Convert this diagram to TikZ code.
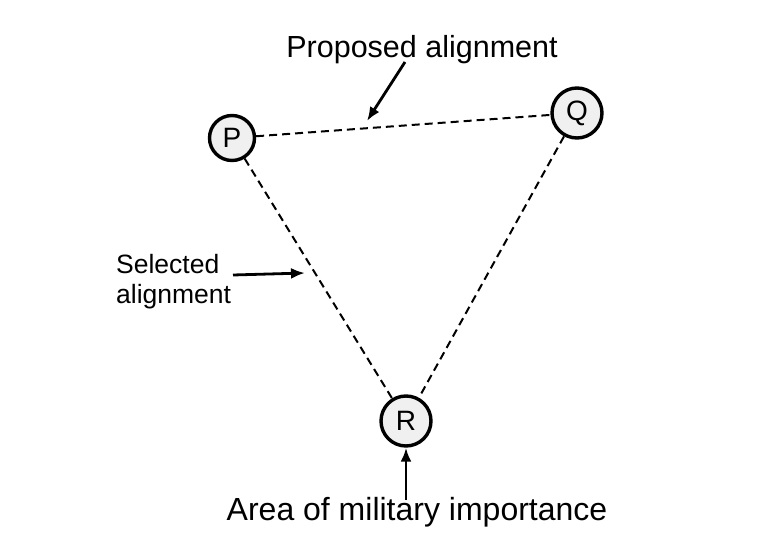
\documentclass[tikz,border=0pt]{standalone}
\usepackage{fontspec}
\setmainfont{Liberation Sans}
\usetikzlibrary{arrows.meta}
\begin{document}
\begin{tikzpicture}[x=1pt,y=-1pt,
  town/.style={circle,draw=black,line width=3.4pt,fill=gray!12,minimum size=45pt,inner sep=0pt,font=\fontsize{28}{32}\selectfont},
  route/.style={line width=2pt,dash pattern=on 8pt off 5pt},
  pointer/.style={line width=2.8pt,-{Latex[length=14pt,width=11pt]}},
  lbl/.style={inner sep=0pt}]
\useasboundingbox (0,0) rectangle (768,540);
\node[town] (P) at (232,138) {P};
\node[town,minimum size=50pt] (Q) at (577,113) {Q};
\node[town,minimum size=50pt] (R) at (406,421) {R};
\draw[route] (P) -- (Q);
\draw[route] (P) -- (R);
\draw[route] (Q) -- (R);
\coordinate (pq) at (367,121);
\coordinate (pr) at (305,273);
\node[lbl,font=\fontsize{30.5}{34}\selectfont] (prop) at (422,50) {Proposed alignment};
\node[lbl,font=\fontsize{26.5}{30}\selectfont,align=left,anchor=west] (sel) at (116,282) {Selected\\alignment};
\node[lbl,font=\fontsize{32}{36}\selectfont] (area) at (417,512) {Area of military importance};
\draw[pointer] (405,62) -- (pq);
\draw[pointer] (233,275) -- (pr);
\draw[pointer] (406,500) -- (R.south);
\end{tikzpicture}
\end{document}
